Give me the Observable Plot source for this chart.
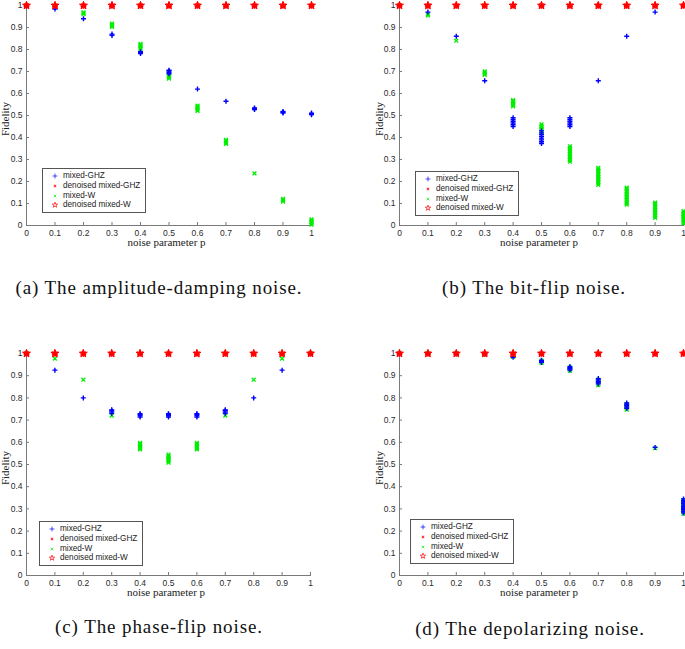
<!DOCTYPE html>
<html>
<head>
<meta charset="utf-8">
<script src="https://cdn.jsdelivr.net/npm/d3@7"></script>
<script src="https://cdn.jsdelivr.net/npm/@observablehq/plot@0.6"></script>
<style>
  body { margin: 0; background: #fff; }
  #root { position: relative; width: 685px; height: 649px; overflow: hidden; background: #fff; }
  .panel { position: absolute; }
  .cap { position: absolute; font-family: "Liberation Serif", serif; font-size: 19px; letter-spacing: 0.9px; color: #111; white-space: nowrap; transform: translate(-50%, -50%); }
  .xlab { position: absolute; font-family: "Liberation Serif", serif; font-size: 11px; color: #222; white-space: nowrap; transform: translate(-50%, -50%); }
  .ylab { position: absolute; font-family: "Liberation Serif", serif; font-size: 11px; color: #222; white-space: nowrap; transform: translate(-50%, -50%) rotate(-90deg); }
  .leg { position: absolute; border: 1px solid #555; background: #fff; font-family: "Liberation Sans", sans-serif; font-size: 8.2px; color: #222; }
  .leg .row { position: absolute; left: 0; height: 10px; line-height: 10px; white-space: nowrap; }
  .leg svg { position: absolute; left: 8px; top: 1px; overflow: visible; }
  .leg span { position: absolute; left: 20px; top: 0; }
</style>
</head>
<body>
<div id="root"></div>
<script>
// ---------- data ----------
const P = [0, 0.1, 0.2, 0.3, 0.4, 0.5, 0.6, 0.7, 0.8, 0.9, 1];
const tickLabels = ["0", "0.1", "0.2", "0.3", "0.4", "0.5", "0.6", "0.7", "0.8", "0.9", "1"];
const seriesNames = ["mixed-GHZ", "denoised mixed-GHZ", "mixed-W", "denoised mixed-W"];
const captions = ["(a) The amplitude-damping noise.", "(b) The bit-flip noise.", "(c) The phase-flip noise.", "(d) The depolarizing noise."];

// fidelity trials per noise parameter p (each inner list = repeated runs)
const denoisedGHZ = [[1],[1],[1],[1],[1],[1],[1],[1],[1],[1],[1]];
const denoisedW   = [[1],[1],[1],[1],[1],[1],[1],[1],[1],[1],[1]];

const ampGHZ = [[1],[0.984],[0.94],[0.864,0.87],[0.782,0.786,0.79],[0.69,0.696,0.702,0.706],[0.62],[0.565],[0.527,0.531,0.534],[0.511,0.515,0.518],[0.504,0.508,0.511]];
const ampW   = [[1],[0.998],[0.961,0.965,0.969],[0.903,0.908,0.913,0.918],[0.803,0.809,0.815,0.821,0.826],[0.668,0.674,0.68,0.686,0.691],[0.521,0.527,0.533,0.539,0.545],[0.371,0.377,0.383,0.389],[0.237],[0.109,0.115,0.121],[0.004,0.01,0.016,0.022,0.028]];

const bitGHZ = [[1],[0.97],[0.86],[0.658],[0.45,0.458,0.466,0.474,0.482,0.49],[0.373,0.381,0.389,0.397,0.405,0.413,0.421,0.43],[0.45,0.458,0.466,0.474,0.482,0.49],[0.658],[0.86],[0.97],[1]];
const bitW   = [[1],[0.955,0.96],[0.84],[0.685,0.69,0.695,0.70],[0.542,0.548,0.554,0.56,0.566,0.57],[0.425,0.432,0.439,0.446,0.453,0.46],[0.29,0.297,0.304,0.311,0.318,0.325,0.332,0.339,0.346,0.353,0.36],[0.185,0.192,0.199,0.206,0.213,0.22,0.227,0.234,0.241,0.248,0.255,0.262],[0.095,0.102,0.109,0.116,0.123,0.13,0.137,0.144,0.151,0.158,0.165,0.172],[0.035,0.042,0.049,0.056,0.063,0.07,0.077,0.084,0.091,0.098,0.104],[0.01,0.017,0.024,0.031,0.038,0.045,0.052,0.059,0.065]];

const phaseGHZ = [[1],[0.925],[0.80],[0.731,0.737,0.743,0.746],[0.714,0.72,0.726,0.729],[0.714,0.72,0.726,0.729],[0.714,0.72,0.726,0.729],[0.731,0.737,0.743,0.746],[0.80],[0.925],[1]];
const phaseW   = [[1],[0.977],[0.882],[0.72],[0.568,0.574,0.58,0.586,0.592,0.597],[0.508,0.514,0.52,0.526,0.532,0.538,0.545],[0.568,0.574,0.58,0.586,0.592,0.597],[0.72],[0.882],[0.977],[1]];

const depGHZ = [[1],[1],[1],[0.998],[0.983],[0.96,0.965,0.969],[0.926,0.931,0.936,0.941],[0.863,0.869,0.875,0.881,0.887],[0.753,0.759,0.765,0.771,0.777],[0.577],[0.282,0.289,0.296,0.303,0.31,0.317,0.324,0.331,0.338,0.345]];
const depW   = [[1],[1],[1],[0.995],[0.985],[0.958,0.963,0.968],[0.922,0.927,0.932,0.937],[0.858,0.864,0.87,0.876,0.882],[0.747,0.753,0.759,0.765,0.771],[0.574],[0.278,0.285,0.292,0.299,0.306,0.313,0.32,0.327,0.334,0.34]];

// ---------- helpers ----------
const rows = (series) => series.flatMap((vals, i) => vals.map(v => ({p: P[i], f: v})));
const BLUE = "#0000ff", RED = "#ff0000", GREEN = "#00ee00";
const AXIS = "#7a7a7a", TXT = "#2a2a2a";

function panel(ghz, w, {width, marginLeft, marginRight, marginTop, marginBottom}) {
  return Plot.plot({
    width, height: 250,
    marginTop, marginBottom, marginLeft, marginRight,
    style: {overflow: "visible", background: "transparent", fontFamily: "Liberation Sans, sans-serif"},
    x: {domain: [0, 1]},
    y: {domain: [0, 1]},
    marks: [
      Plot.axisX({ticks: P, tickFormat: (d, i) => tickLabels[i], tickSize: -3, tickPadding: 7, stroke: AXIS, fill: TXT, fontSize: 8.5, label: null}),
      Plot.axisY({ticks: P, tickFormat: (d, i) => tickLabels[i], tickSize: -3, tickPadding: 7, stroke: AXIS, fill: TXT, fontSize: 8.5, label: null}),
      Plot.frame({anchor: "left", stroke: AXIS}),
      Plot.frame({anchor: "bottom", stroke: AXIS}),
      Plot.dot(rows(w), {x: "p", y: "f", symbol: "times", r: 1.9, stroke: GREEN, strokeWidth: 1.3}),
      Plot.dot(rows(ghz), {x: "p", y: "f", symbol: "plus", r: 1.75, stroke: BLUE, strokeWidth: 1.4}),
      Plot.dot(rows(denoisedGHZ), {x: "p", y: "f", symbol: "asterisk", r: 3, stroke: RED, strokeWidth: 1.4}),
      Plot.dot(rows(denoisedW), {x: "p", y: "f", symbol: "star", r: 2.5, fill: RED, stroke: RED, strokeWidth: 1})
    ]
  });
}

function legend(left, top) {
  const div = document.createElement("div");
  div.className = "leg";
  Object.assign(div.style, {left: left + "px", top: top + "px", width: "102px", height: "43px"});
  const syms = [
    {type: d3.symbolPlus, size: 9, stroke: BLUE, fill: "none"},
    {type: d3.symbolAsterisk, size: 6, stroke: RED, fill: "none"},
    {type: d3.symbolTimes, size: 5, stroke: GREEN, fill: "none"},
    {type: d3.symbolStar, size: 9, stroke: RED, fill: "none"}
  ];
  seriesNames.forEach((name, i) => {
    const row = document.createElement("div");
    row.className = "row";
    row.style.top = (2 + i * 9.8) + "px";
    const svg = d3.create("svg").attr("width", 8).attr("height", 8);
    svg.append("path")
      .attr("transform", "translate(4,4)")
      .attr("d", d3.symbol(syms[i].type, syms[i].size)())
      .attr("fill", syms[i].fill).attr("stroke", syms[i].stroke).attr("stroke-width", 0.7);
    row.appendChild(svg.node());
    const sp = document.createElement("span");
    sp.textContent = name;
    row.appendChild(sp);
    div.appendChild(row);
  });
  return div;
}

function addText(cls, text, x, y) {
  const d = document.createElement("div");
  d.className = cls;
  d.textContent = text;
  d.style.left = x + "px";
  d.style.top = y + "px";
  root.appendChild(d);
}

const root = document.getElementById("root");
const panels = [
  {ghz: ampGHZ, w: ampW, left: 0, top: 0, width: 342, marginLeft: 26, marginRight: 31, marginTop: 5, marginBottom: 25, leg: [42, 168], cap: [159, 288], ylab: 5},
  {ghz: bitGHZ, w: bitW, left: 342, top: 0, width: 343, marginLeft: 57, marginRight: 2, marginTop: 5, marginBottom: 25, leg: [415, 171], cap: [534, 288], ylab: 379},
  {ghz: phaseGHZ, w: phaseW, left: 0, top: 350, width: 342, marginLeft: 26, marginRight: 32, marginTop: 3, marginBottom: 25, leg: [39, 521], cap: [159, 627], ylab: 5},
  {ghz: depGHZ, w: depW, left: 342, top: 350, width: 343, marginLeft: 57, marginRight: 2, marginTop: 3, marginBottom: 25, leg: [410, 519], cap: [530, 629], ylab: 379}
];

panels.forEach((pp, k) => {
  const wrap = document.createElement("div");
  wrap.className = "panel";
  wrap.style.left = pp.left + "px";
  wrap.style.top = pp.top + "px";
  wrap.appendChild(panel(pp.ghz, pp.w, pp));
  root.appendChild(wrap);
  const x0 = pp.left + pp.marginLeft, x1 = pp.left + pp.width - pp.marginRight;
  const y0 = pp.top + pp.marginTop, y1 = pp.top + 250 - pp.marginBottom;
  addText("xlab", "noise parameter p", (x0 + x1) / 2 - 2, y1 + 17);
  addText("ylab", "Fidelity", pp.ylab, (y0 + y1) / 2 + 4);
  root.appendChild(legend(pp.leg[0], pp.leg[1]));
  addText("cap", captions[k], pp.cap[0], pp.cap[1]);
});
</script>
</body>
</html>
